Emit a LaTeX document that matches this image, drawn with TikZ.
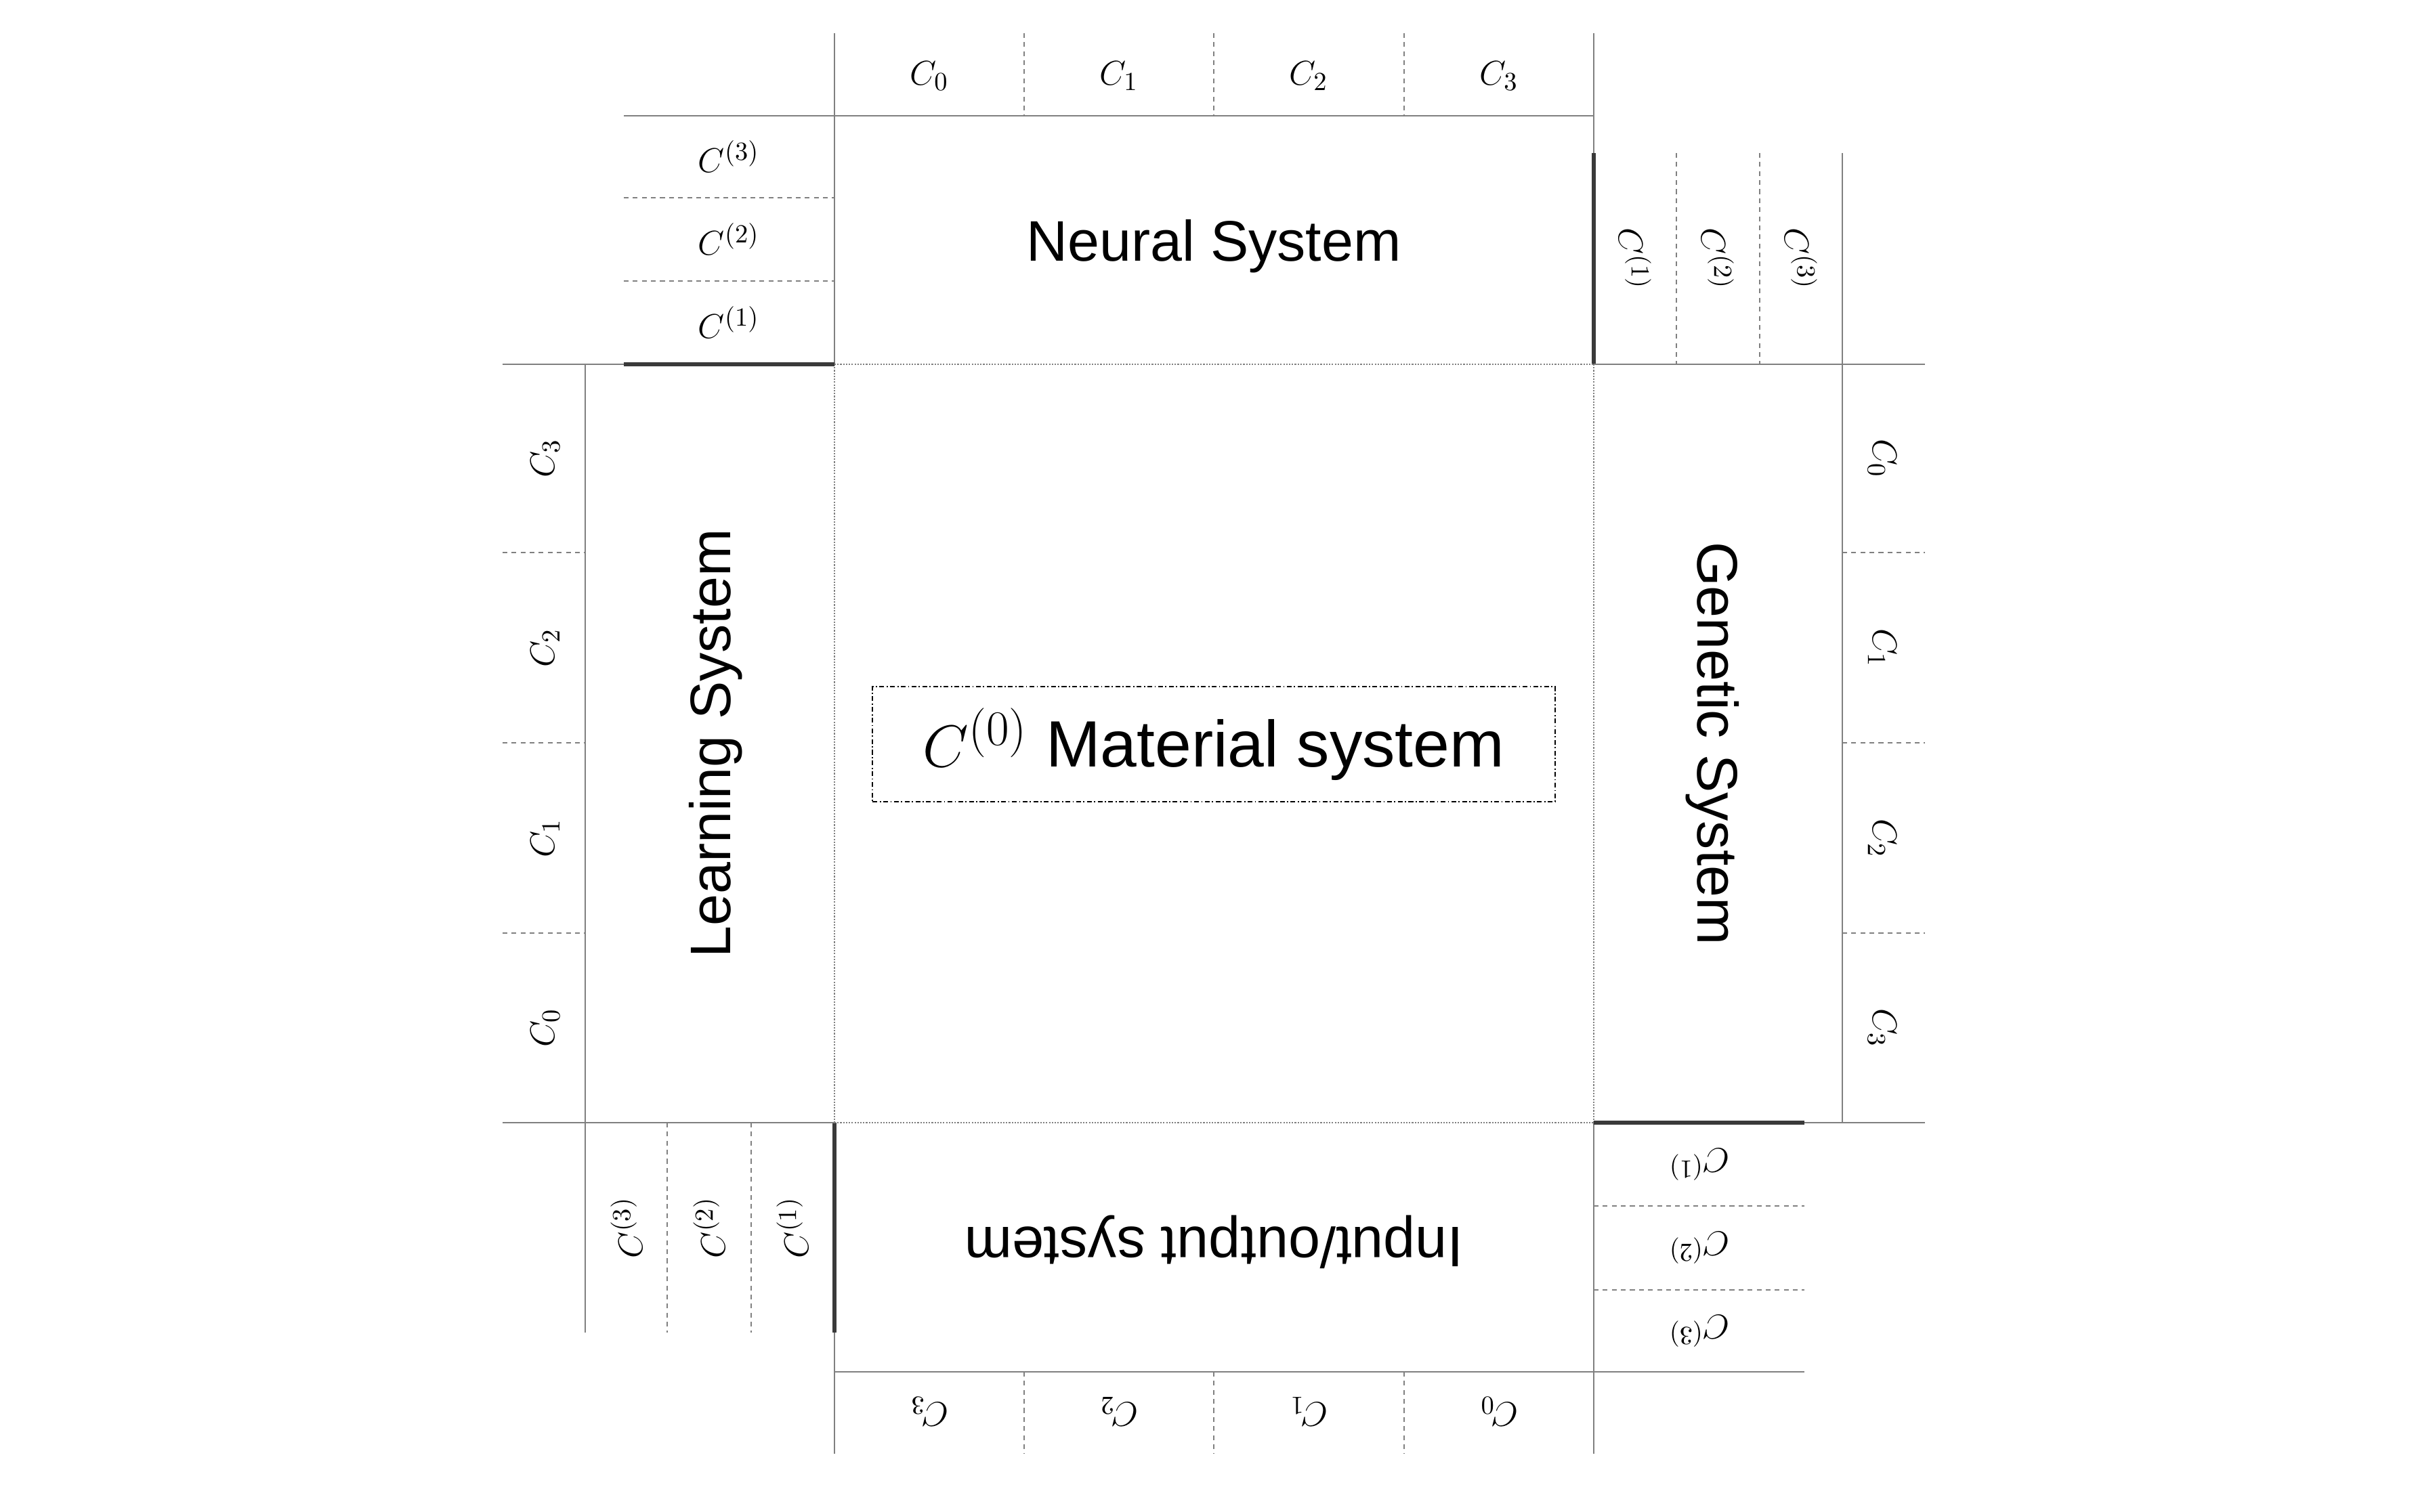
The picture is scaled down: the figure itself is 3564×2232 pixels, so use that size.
\documentclass[tikz,border=0pt]{standalone}
\usepackage{fontspec}
\setmainfont{Liberation Sans}
\usetikzlibrary{positioning}
\definecolor{EdgeGray}{HTML}{808080}
\definecolor{TabDark}{HTML}{3A3A3A}

\begin{document}
\begin{tikzpicture}[x=0.01cm, y=-0.01cm,
  edge/.style={draw=EdgeGray, line width=0.8pt},
  fold/.style={draw=EdgeGray, line width=0.5pt, dash pattern=on 2pt off 1.8pt},
  crease/.style={draw=EdgeGray, line width=0.8pt, dash pattern=on 0.6pt off 0.6pt},
  tab/.style={draw=TabDark, line width=1.8pt},
  sysname/.style={inner sep=0pt, font=\fontsize{24}{28}\selectfont},
  clabel/.style={inner sep=0pt, font=\fontsize{15}{18}\selectfont},
  matbox/.style={draw, line width=0.5pt, dash pattern=on 2pt off 1pt on 0.5pt off 1pt,
    minimum width=10.07cm, minimum height=1.70cm, font=\fontsize{27.5}{32}\selectfont}
]
\useasboundingbox (0,0) rectangle (3564,2232);

\draw[edge] (1232,49) -- (1232,538);
\draw[crease] (1232,538) -- (1232,1658);
\draw[tab] (1232,1658) -- (1232,1968);
\draw[edge] (1232,1968) -- (1232,2147);
\draw[edge] (2353,49) -- (2353,226);
\draw[tab] (2353,226) -- (2353,538);
\draw[crease] (2353,538) -- (2353,1658);
\draw[edge] (2353,1658) -- (2353,2147);

\draw[edge] (921,171) -- (2353,171);
\draw[edge] (742,538) -- (921,538);
\draw[tab] (921,538) -- (1232,538);
\draw[crease] (1232,538) -- (2353,538);
\draw[edge] (2353,538) -- (2842,538);
\draw[edge] (742,1658) -- (1232,1658);
\draw[crease] (1232,1658) -- (2353,1658);
\draw[tab] (2353,1658) -- (2664,1658);
\draw[edge] (2664,1658) -- (2842,1658);
\draw[edge] (1232,2026) -- (2664,2026);
\draw[edge] (864,538) -- (864,1968);
\draw[edge] (2720,226) -- (2720,1658);

\foreach \x in {1512,1792,2073} {
  \draw[fold] (\x,49) -- (\x,171);
  \draw[fold] (\x,2026) -- (\x,2147);
}
\foreach \y in {292,415} \draw[fold] (921,\y) -- (1232,\y);
\foreach \x in {2475,2598} \draw[fold] (\x,226) -- (\x,538);
\foreach \y in {816,1097,1378} {
  \draw[fold] (742,\y) -- (864,\y);
  \draw[fold] (2720,\y) -- (2842,\y);
}
\foreach \x in {985,1109} \draw[fold] (\x,1658) -- (\x,1968);
\foreach \y in {1781,1905} \draw[fold] (2353,\y) -- (2664,\y);

\foreach \i/\x in {0/1372,1/1652,2/1932,3/2213}
  \node[clabel] (top-c\i) at (\x,112) {$C_{\i}$};
\foreach \i/\x in {3/1372,2/1652,1/1932,0/2213}
  \node[clabel, rotate=180] (bot-c\i) at (\x,2085) {$C_{\i}$};
\foreach \i/\y in {3/677,2/957,1/1238,0/1518}
  \node[clabel, rotate=90] (left-c\i) at (805,\y) {$C_{\i}$};
\foreach \i/\y in {0/677,1/957,2/1238,3/1518}
  \node[clabel, rotate=-90] (right-c\i) at (2779,\y) {$C_{\i}$};

\foreach \k/\y in {3/231,2/353,1/476}
  \node[clabel] (nw-c\k) at (1076,\y) {$C^{(\k)}$};
\foreach \k/\x in {1/2414,2/2536,3/2659}
  \node[clabel, rotate=-90] (ne-c\k) at (\x,382) {$C^{(\k)}$};
\foreach \k/\x in {3/925,2/1047,1/1170}
  \node[clabel, rotate=90] (sw-c\k) at (\x,1813) {$C^{(\k)}$};
\foreach \k/\y in {1/1720,2/1843,3/1966}
  \node[clabel, rotate=180] (se-c\k) at (2508,\y) {$C^{(\k)}$};

\node[sysname] (neural) at (1792,364) {Neural System};
\node[sysname, rotate=90] (learning) at (1057,1098) {Learning System};
\node[sysname, rotate=-90] (genetic) at (2528,1098) {Genetic System};
\node[sysname, rotate=180] (inout) at (1792,1834) {Input/output system};
\node[matbox] (material) at (1792,1099) {$C^{(0)}$ Material system};
\end{tikzpicture}
\end{document}
